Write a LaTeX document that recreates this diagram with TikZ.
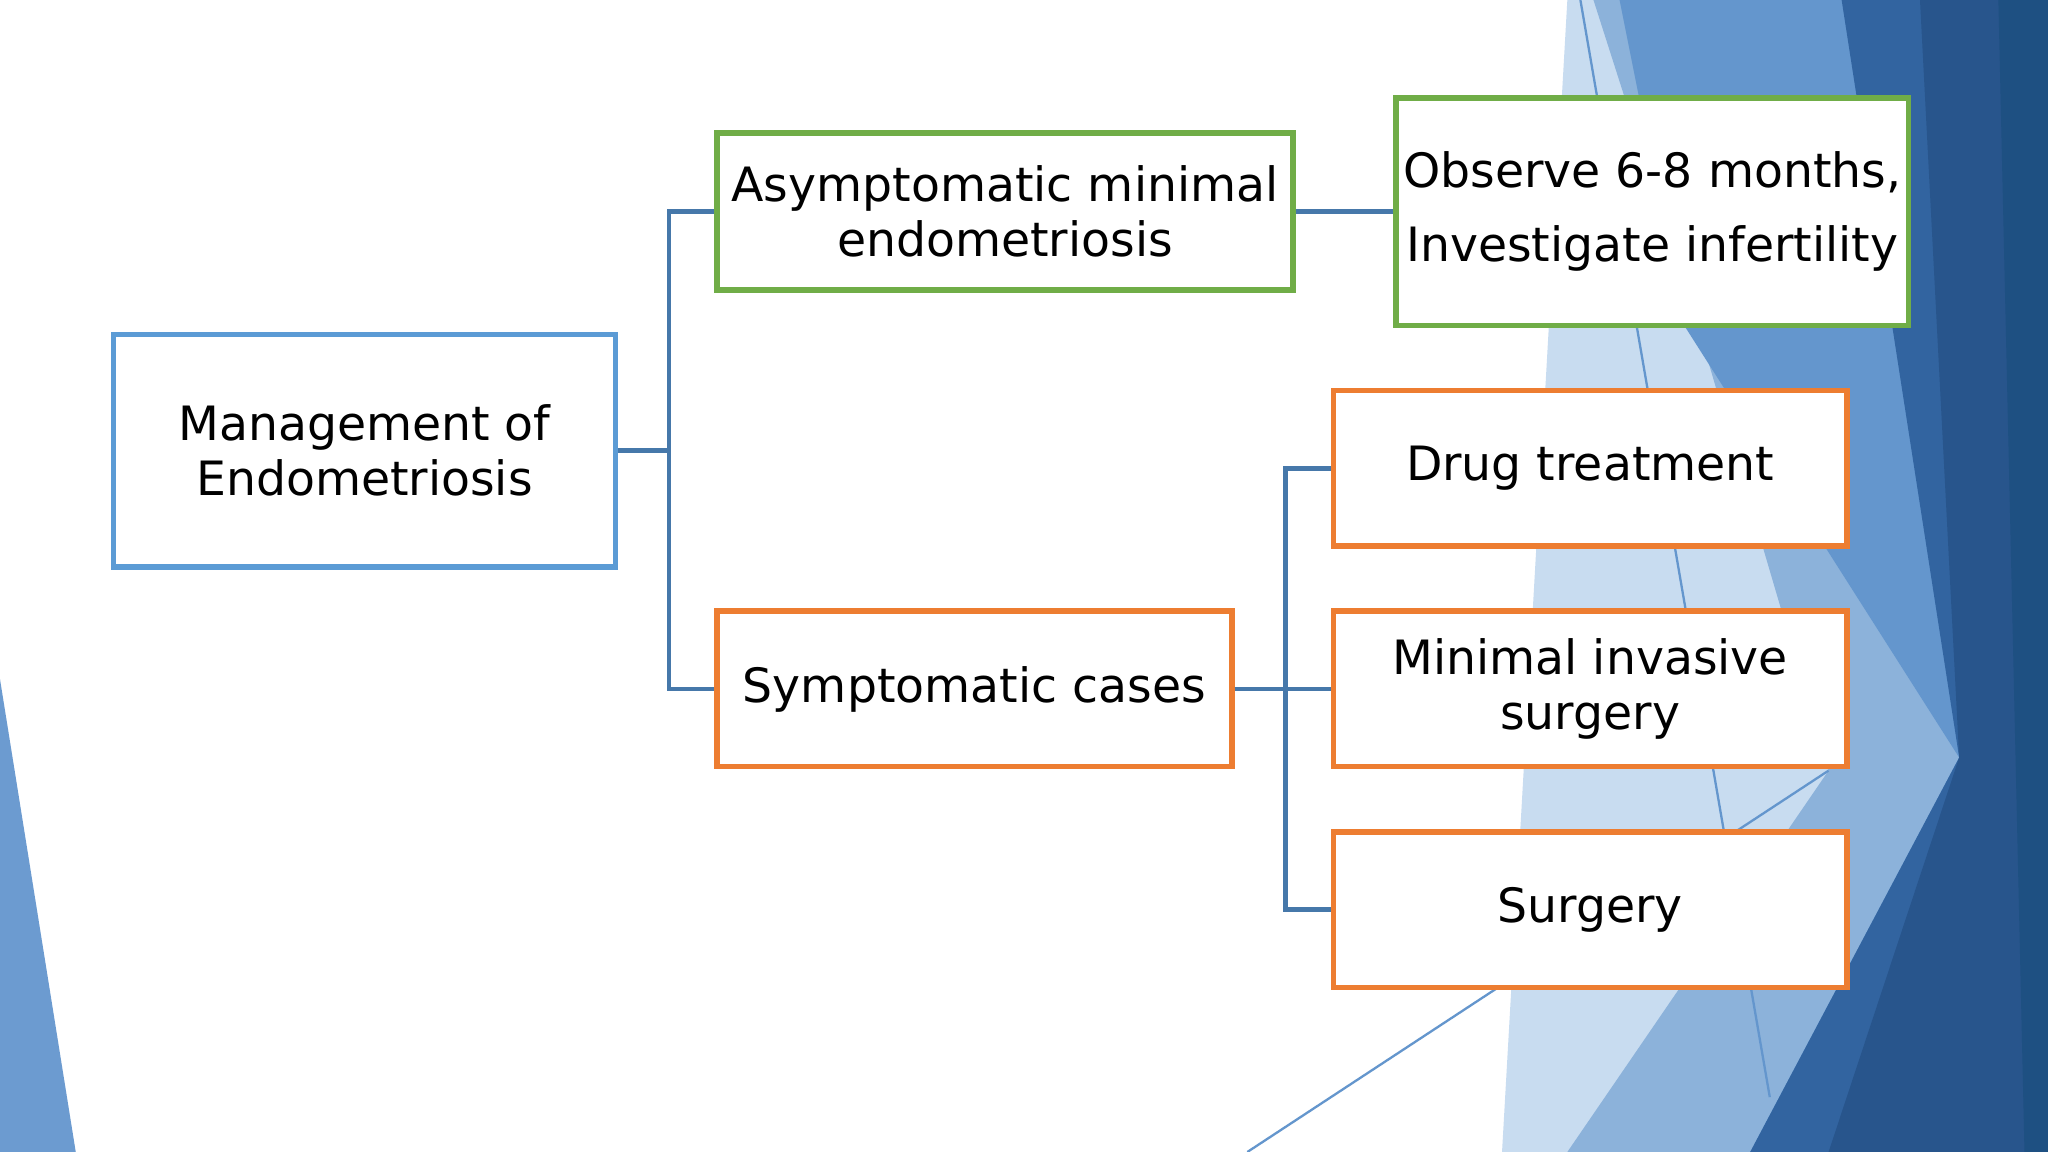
\documentclass[tikz,border=0pt]{standalone}
\usepackage{fontspec}
\setmainfont{DejaVu Sans}
\definecolor{bl}{RGB}{91,155,213}\definecolor{gr}{RGB}{112,173,71}\definecolor{og}{RGB}{237,125,49}
\definecolor{cn}{RGB}{70,120,170}
\definecolor{c1}{RGB}{200,220,240}\definecolor{c2}{RGB}{140,178,218}\definecolor{c3}{RGB}{100,150,205}
\definecolor{c4}{RGB}{50,100,160}\definecolor{c5}{RGB}{40,85,140}\definecolor{c6}{RGB}{30,80,130}
\definecolor{c7}{RGB}{108,155,208}
\begin{document}
\begin{tikzpicture}[x=0.01cm,y=-0.01cm,
 box/.style={draw,line width=1.2pt,fill=white,align=center,inner sep=0pt,font=\fontsize{10.3}{12}\selectfont},
 conn/.style={draw=cn,line width=1pt}]
\useasboundingbox (0,0) rectangle (1568,882);
\fill[white] (0,0) rectangle (1568,882);
% background shapes
\fill[c1] (1200,0)--(1568,0)--(1568,882)--(1150,882)--cycle;
\fill[c2] (1220,0)--(1568,0)--(1568,882)--(1200,882)--(1400,590)--(1300,250)--cycle;
\fill[c3] (1240,0)--(1568,0)--(1568,882)--(1340,882)--(1500,580)--(1290,250)--cycle;
\fill[c4] (1410,0)--(1568,0)--(1568,882)--(1340,882)--(1500,580)--cycle;
\fill[c5] (1470,0)--(1568,0)--(1568,882)--(1400,882)--(1500,580)--cycle;
\fill[c6] (1530,0)--(1568,0)--(1568,882)--(1550,882)--cycle;
\fill[c7] (0,520)--(0,882)--(58,882)--cycle;
\draw[c3,line width=0.5pt] (955,882)--(1400,590);
\draw[c3,line width=0.5pt] (1210,0)--(1355,840);
% boxes
\node[box,draw=bl,minimum width=3.84cm,minimum height=1.78cm] (m) at (279,345) {Management of\\Endometriosis};
\node[box,draw=gr,minimum width=4.41cm,minimum height=1.2cm] (a) at (769.5,162) {Asymptomatic minimal\\endometriosis};
\node[box,draw=gr,minimum width=3.92cm,minimum height=1.74cm,font=\fontsize{10.3}{16}\selectfont] (o) at (1265,162) {Observe 6-8 months,\\Investigate infertility};
\node[box,draw=og,minimum width=3.94cm,minimum height=1.19cm] (s) at (746,527.5) {Symptomatic cases};
\node[box,draw=og,minimum width=3.93cm,minimum height=1.19cm] (d) at (1217.5,358.5) {Drug treatment};
\node[box,draw=og,minimum width=3.93cm,minimum height=1.19cm] (mi) at (1217.5,527.5) {Minimal invasive\\surgery};
\node[box,draw=og,minimum width=3.93cm,minimum height=1.19cm] (su) at (1217.5,696.5) {Surgery};
% connectors
\draw[conn] (m.east) -- ++(39,0) |- (a.west);
\draw[conn] (m.east) -- ++(39,0) |- (s.west);
\draw[conn] (a.east) -- (o.west);
\draw[conn] (s.east) -- ++(39,0) |- (d.west);
\draw[conn] (s.east) -- (mi.west);
\draw[conn] (s.east) -- ++(39,0) |- (su.west);
\end{tikzpicture}
\end{document}
